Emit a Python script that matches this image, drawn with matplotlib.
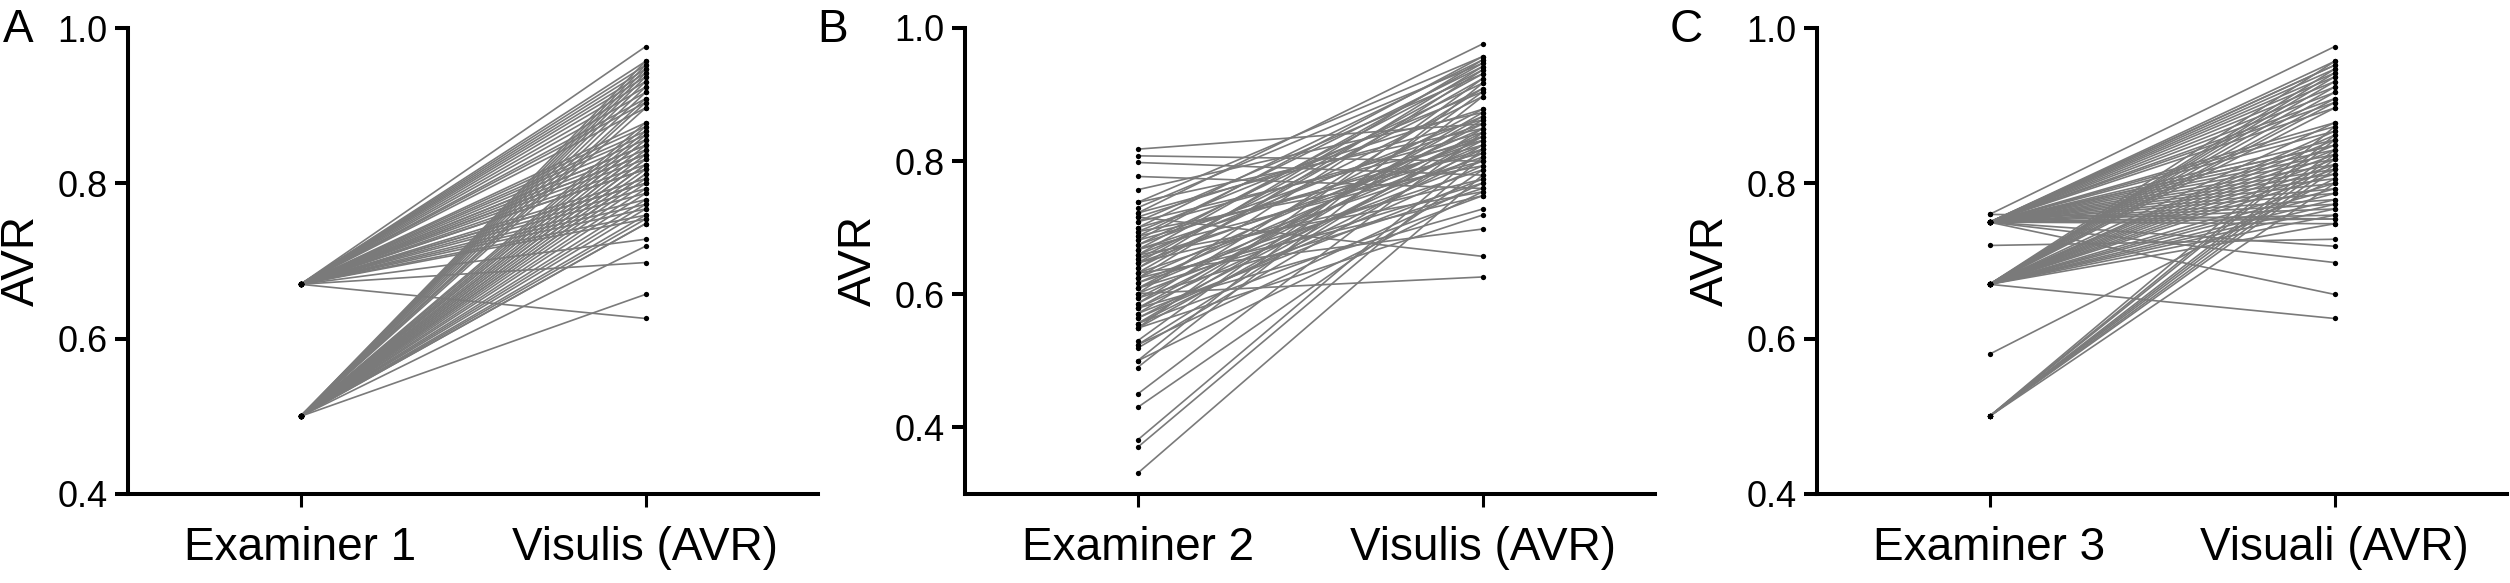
import numpy as np
import matplotlib
matplotlib.use("Agg")
import matplotlib.pyplot as plt

plt.rcParams['font.family'] = ['Liberation Sans', 'DejaVu Sans']

# AVR medido por Visulis / Visuali (mismo conjunto de ojos en los tres paneles)
visulis = [0.976, 0.957, 0.957, 0.952, 0.952, 0.947, 0.947, 0.942, 0.942, 0.937,
           0.937, 0.931, 0.931, 0.924, 0.924, 0.917, 0.917, 0.909, 0.909, 0.904,
           0.904, 0.897, 0.897, 0.878, 0.878, 0.873, 0.873, 0.867, 0.867, 0.862,
           0.862, 0.856, 0.856, 0.856, 0.849, 0.849, 0.849, 0.843, 0.843, 0.843,
           0.837, 0.837, 0.837, 0.831, 0.831, 0.831, 0.824, 0.824, 0.824, 0.818,
           0.818, 0.818, 0.812, 0.812, 0.806, 0.806, 0.800, 0.800, 0.800, 0.793,
           0.793, 0.787, 0.787, 0.779, 0.779, 0.773, 0.773, 0.767, 0.767, 0.759,
           0.759, 0.754, 0.754, 0.748, 0.748, 0.728, 0.719, 0.698, 0.657, 0.626]

examiner1 = [0.67, 0.67, 0.50, 0.67, 0.50, 0.67, 0.50, 0.67, 0.50, 0.67,
             0.50, 0.67, 0.50, 0.67, 0.50, 0.67, 0.50, 0.67, 0.50, 0.50,
             0.67, 0.67, 0.50, 0.67, 0.50, 0.50, 0.67, 0.67, 0.50, 0.67,
             0.50, 0.67, 0.50, 0.50, 0.67, 0.50, 0.67, 0.50, 0.67, 0.50,
             0.67, 0.50, 0.67, 0.50, 0.67, 0.50, 0.50, 0.67, 0.50, 0.67,
             0.50, 0.67, 0.50, 0.50, 0.67, 0.50, 0.67, 0.50, 0.67, 0.50,
             0.67, 0.50, 0.67, 0.50, 0.67, 0.50, 0.67, 0.50, 0.67, 0.50,
             0.67, 0.50, 0.67, 0.50, 0.50, 0.67, 0.50, 0.67, 0.50, 0.67]

examiner2 = [0.722, 0.738, 0.681, 0.700, 0.639, 0.659, 0.730, 0.624, 0.687, 0.667,
             0.601, 0.709, 0.647, 0.632, 0.549, 0.674, 0.500, 0.653, 0.586, 0.694,
             0.530, 0.639, 0.490, 0.716, 0.609, 0.571, 0.757, 0.659, 0.579, 0.722,
             0.556, 0.818, 0.674, 0.594, 0.738, 0.624, 0.524, 0.700, 0.586, 0.450,
             0.667, 0.617, 0.549, 0.709, 0.647, 0.564, 0.681, 0.609, 0.519, 0.653,
             0.579, 0.381, 0.687, 0.556, 0.632, 0.370, 0.808, 0.667, 0.601, 0.694,
             0.564, 0.617, 0.430, 0.798, 0.331, 0.647, 0.571, 0.609, 0.524, 0.777,
             0.594, 0.659, 0.500, 0.624, 0.556, 0.579, 0.549, 0.632, 0.716, 0.601]

examiner3 = [0.76, 0.75, 0.67, 0.75, 0.75, 0.67, 0.75, 0.67, 0.75, 0.75,
             0.67, 0.75, 0.67, 0.75, 0.67, 0.75, 0.67, 0.75, 0.67, 0.75,
             0.67, 0.75, 0.67, 0.75, 0.67, 0.50, 0.75, 0.67, 0.75, 0.50,
             0.67, 0.75, 0.67, 0.50, 0.75, 0.67, 0.75, 0.50, 0.67, 0.75,
             0.50, 0.67, 0.75, 0.75, 0.50, 0.67, 0.75, 0.67, 0.50, 0.75,
             0.67, 0.50, 0.75, 0.67, 0.58, 0.75, 0.75, 0.67, 0.50, 0.75,
             0.67, 0.75, 0.67, 0.75, 0.67, 0.75, 0.67, 0.75, 0.67, 0.75,
             0.67, 0.75, 0.76, 0.75, 0.67, 0.72, 0.75, 0.75, 0.75, 0.67]

paneles = [
    ("A", examiner1, ["Examiner 1", "Visulis (AVR)"], (0.4, 1.0)),
    ("B", examiner2, ["Examiner 2", "Visulis (AVR)"], (0.3, 1.0)),
    ("C", examiner3, ["Examiner 3", "Visuali (AVR)"], (0.4, 1.0)),
]

W, H = 2510, 583
fig = plt.figure(figsize=(W / 100, H / 100), dpi=100)

# posicion de cada eje en pixeles (spine izquierdo) y de la letra
lefts = [128, 965, 1817]
letras_x = [3, 817, 1670]
ax_w, ax_top, ax_bot = 690, 28, 494

for (letra, examiner, etiquetas, ylim), lx, tx in zip(paneles, lefts, letras_x):
    ax = fig.add_axes([lx / W, (H - ax_bot) / H, ax_w / W, (ax_bot - ax_top) / H])
    y = np.vstack([examiner, visulis])
    ax.plot([0, 1], y, color="0.48", lw=1.2, zorder=2)
    ax.plot(np.zeros(len(examiner)), examiner, "o", color="black", ms=3.8, mew=0, zorder=3)
    ax.plot(np.ones(len(visulis)), visulis, "o", color="black", ms=3.8, mew=0, zorder=3)

    ax.set_xlim(-0.5, 1.5)
    ax.set_ylim(*ylim)
    ax.set_xticks([0, 1])
    ax.set_xticklabels(etiquetas)
    ax.set_yticks([0.4, 0.6, 0.8, 1.0])
    ax.set_yticklabels(["0.4", "0.6", "0.8", "1.0"])
    ax.set_ylabel("AVR", fontsize=33, labelpad=10)

    for lado in ["top", "right"]:
        ax.spines[lado].set_visible(False)
    for lado in ["left", "bottom"]:
        ax.spines[lado].set_linewidth(2.9)
    ax.tick_params(axis="y", labelsize=26, length=9.5, width=2.9, pad=5)
    ax.tick_params(axis="x", labelsize=33, length=9, width=2.2, pad=14)

    fig.text(tx / W, (H - 42) / H, letra, fontsize=33, va="baseline", ha="left")

fig.savefig("out.png", dpi=100)
